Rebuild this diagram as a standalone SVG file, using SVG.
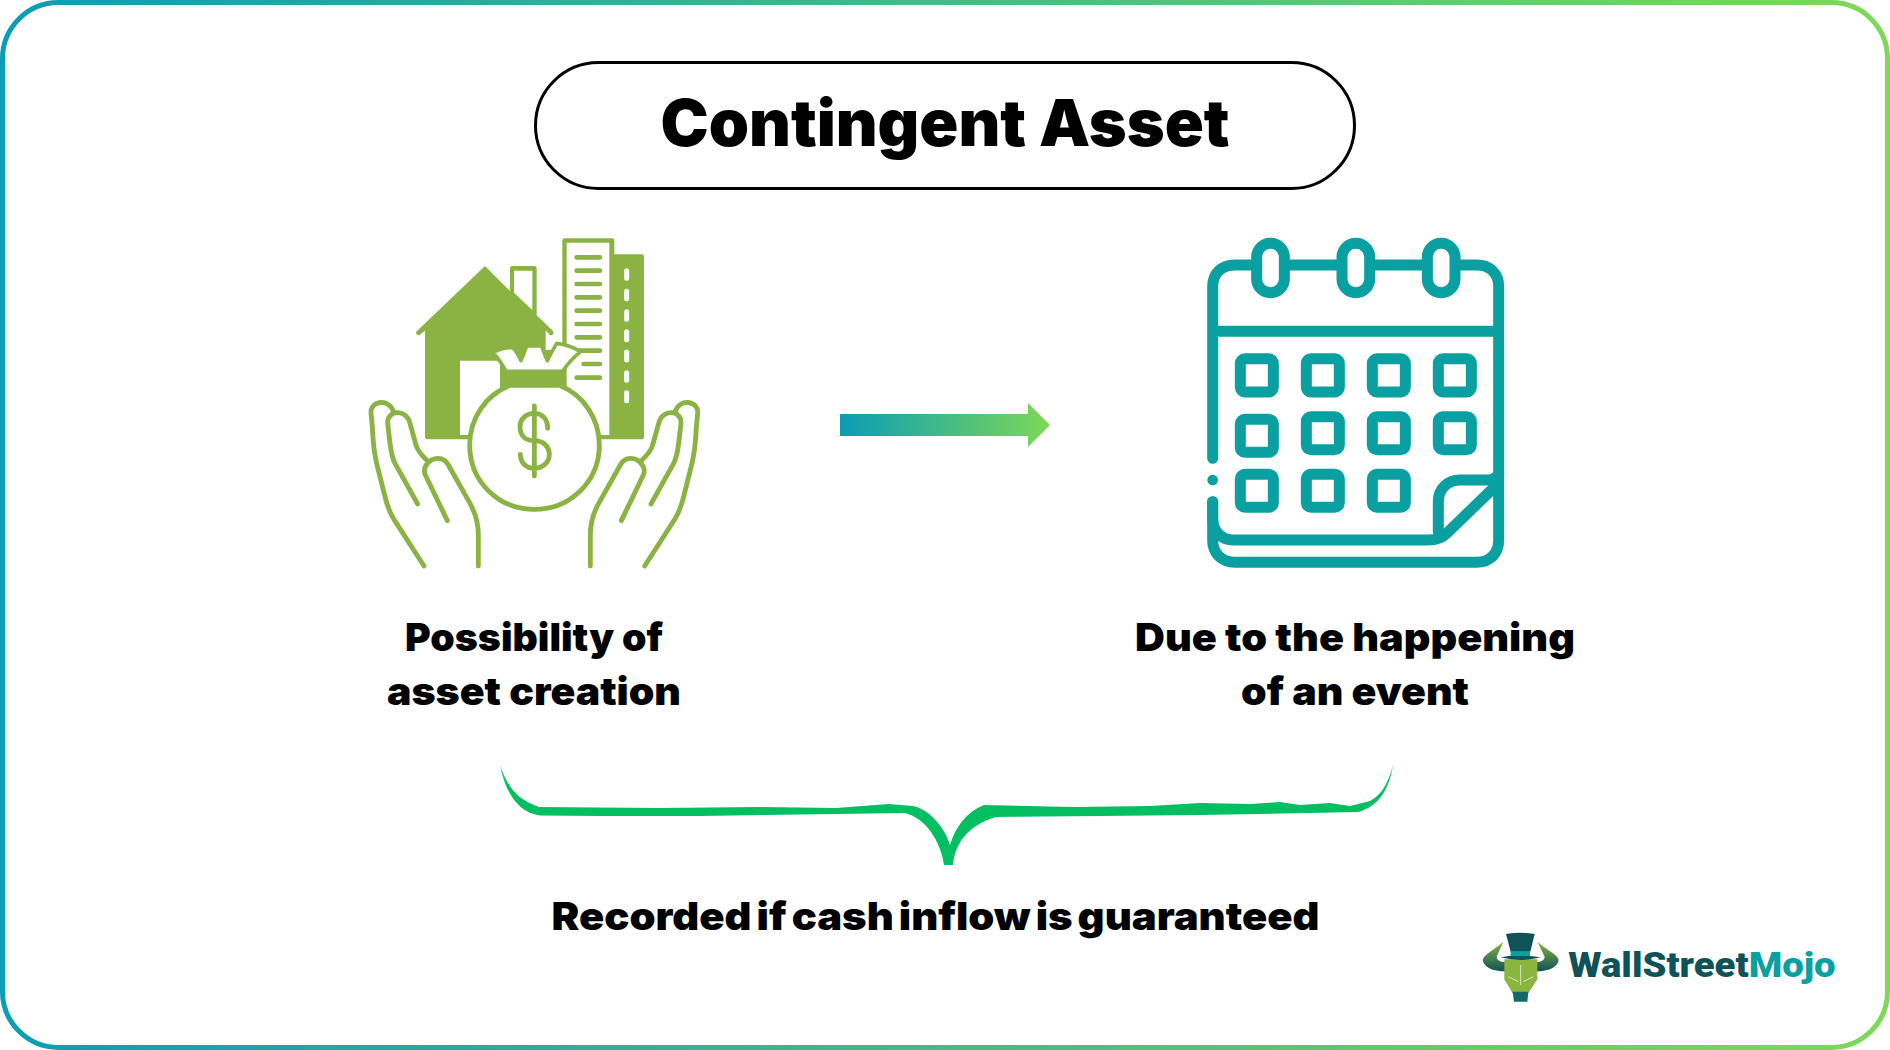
<svg xmlns="http://www.w3.org/2000/svg" width="1890" height="1050" viewBox="0 0 1890 1050">
<style>
.t{font-family:"Inter","Liberation Sans",sans-serif;font-weight:900;fill:#000;text-anchor:middle}
.l{font-size:39px}
.g{fill:none;stroke:#8AB343;stroke-width:14.500;stroke-linecap:round;stroke-linejoin:round}
.c{fill:none;stroke:#0A9FA0;stroke-width:33;stroke-linecap:round;stroke-linejoin:round}
.s{fill:none;stroke:#0A9FA0;stroke-width:33}
</style>
<defs>
<linearGradient id="bd" gradientUnits="userSpaceOnUse" x1="0" y1="0" x2="1890" y2="0"><stop offset="0" stop-color="#0A9DB5"/><stop offset="1" stop-color="#7ED957"/></linearGradient>
<linearGradient id="ar" gradientUnits="userSpaceOnUse" x1="840" y1="0" x2="1050" y2="0"><stop offset="0" stop-color="#0A9DB5"/><stop offset="1" stop-color="#7ED957"/></linearGradient>
<linearGradient id="hn" x1="0" y1="0" x2="0" y2="1"><stop offset="0" stop-color="#8AB640"/><stop offset="1" stop-color="#0F5257"/></linearGradient>
<g id="hand" class="g">
<path d="M252,1068 L160,925 Q145,900 135,860 L110,760 Q100,720 97,650 L93,610 C90,570 150,565 160,605"/>
<path d="M233,882 L165,760 Q155,740 150,700 L143,640 C140,600 200,595 210,640 L228,705 Q233,725 262,752"/>
<path d="M322,932 L256,795 C240,760 300,720 325,765 L390,880 Q415,925 415,975 L415,1068"/>
</g>
</defs>
<rect width="1890" height="1050" fill="#fff"/>
<rect id="frame" x="2.5" y="2.5" width="1885" height="1045" rx="56" fill="#fff" stroke="url(#bd)" stroke-width="5"/>
<g id="title">
<rect x="535.5" y="62.5" width="819" height="126" rx="63" fill="#fff" stroke="#000" stroke-width="3"/>
<text class="t" x="945" y="146" font-size="65" textLength="569" lengthAdjust="spacingAndGlyphs">Contingent Asset</text>
</g>
<g id="asset-node">
<g transform="translate(340,210) scale(.33333)">
<path fill="#8AB343" d="M435,168 L228,366 Q228,376 238,376 L255,362 V682 Q255,688 262,688 H906 Q912,688 912,682 V139 Q912,133 906,133 H823 V92 Q823,85 816,85 H674 Q667,85 667,92 V420 H617 V360 L630,376 Q642,376 640,364 L590,316 V175 Q590,168 583,168 H517 Q510,168 510,175 V243 Z"/>
<path fill="#fff" d="M522,182 H577 V300 L522,248 Z"/>
<path fill="#fff" d="M680,98 H808 V675 H680 Z"/>
<path fill="#fff" d="M360,452 H480 V675 H360 Z"/>
<path fill="none" stroke="#8AB343" stroke-width="14" stroke-linecap="round" d="M710,142 H780 M710,182 H780 M710,222 H780 M710,262 H780 M710,302 H780 M710,342 H780 M710,382 H780 M710,422 H780 M731,462 H780 M710,503 H780"/>
<path fill="none" stroke="#fff" stroke-width="15" stroke-linecap="round" d="M860,182 V205 M860,244 V266 M860,305 V328 M860,365 V389 M860,426 V450 M860,488 V511 M860,548 V572"/>
<path fill="#fff" stroke="#8AB343" stroke-width="14.500" stroke-linejoin="round" d="M510,526 H658 C730,555 778,625 778,705 C778,815 690,898 583,898 C476,898 389,815 389,705 C389,625 437,555 510,526 Z"/>
<path fill="#8AB343" d="M497,480 H670 L662,522 L500,522 Z"/>
<path fill="#fff" stroke="#8AB343" stroke-width="11" stroke-linejoin="round" d="M458,427 Q490,412 518,412 Q530,425 543,452 Q552,430 560,408 H605 Q612,430 622,452 Q635,425 650,400 Q690,405 722,425 Q690,450 668,484 H498 Q480,450 458,427 Z"/>
<path d="M583,588 V798 M623,655 C623,625 605,610 583,610 C555,610 540,630 540,650 C540,680 560,692 583,692 C610,692 628,710 628,733 C628,760 605,775 583,775 C560,775 541,760 541,733" class="g"/>
<use href="#hand"/>
<use href="#hand" transform="matrix(-1,0,0,1,1166,0)"/>
</g>
<text class="t l" x="534" y="651" textLength="258" lengthAdjust="spacingAndGlyphs">Possibility of</text>
<text class="t l" x="534" y="705" textLength="294" lengthAdjust="spacingAndGlyphs">asset creation</text>
</g>
<g id="connectors">
<path id="arrow" fill="url(#ar)" d="M840,414 H1028 V403 L1050,425 L1028,447 V436 H840 Z"/>
</g>
<g id="event-node">
<g transform="translate(1180,210) scale(.33333)">
<path class="c" d="M98,745 V230 C98,190 125,165 165,165 H890 C930,165 956,190 956,230 V990 C956,1030 930,1057 890,1057 H165 C125,1057 98,1030 98,990 V875"/>
<path class="c" d="M98,875 V925 C98,965 125,990 160,990 H745 C765,990 785,985 800,970 L950,825"/>
<path class="c" d="M775,965 V875 C775,835 805,810 840,810 H925 Q945,810 956,790"/>
<path class="s" d="M98,364 H956"/>
<circle cx="98" cy="810" r="16" fill="#0A9FA0"/>
<g fill="#fff" stroke="#0A9FA0" stroke-width="33">
<rect x="230" y="100" width="83" height="148" rx="41"/>
<rect x="486" y="100" width="83" height="148" rx="41"/>
<rect x="742" y="100" width="83" height="148" rx="41"/>
</g>
<g fill="none" stroke="#0A9FA0" stroke-width="33">
<rect x="181" y="446" width="99" height="100" rx="14"/>
<rect x="379" y="446" width="99" height="100" rx="14"/>
<rect x="577" y="446" width="99" height="100" rx="14"/>
<rect x="775" y="446" width="99" height="100" rx="14"/>
<rect x="181" y="628" width="99" height="99" rx="14"/>
<rect x="379" y="620" width="99" height="99" rx="14"/>
<rect x="577" y="620" width="99" height="99" rx="14"/>
<rect x="775" y="620" width="99" height="99" rx="14"/>
<rect x="181" y="793" width="99" height="99" rx="14"/>
<rect x="379" y="793" width="99" height="99" rx="14"/>
<rect x="577" y="793" width="99" height="99" rx="14"/>
</g>
</g>
<text class="t l" x="1355" y="651" textLength="440" lengthAdjust="spacingAndGlyphs">Due to the happening</text>
<text class="t l" x="1355" y="705" textLength="228" lengthAdjust="spacingAndGlyphs">of an event</text>
</g>
<g id="brace-node">
<path fill="#04BF62" d="M500,765 C505,790 516,812 540,815.500 L600,816 L700,816 L800,814.500 L905,813 C926,818 941,842 944,865 L953,865 C955,845 966,826 996,817 L1100,816 L1200,815 L1358,812 C1378,807 1389,790 1393,765 C1388,785 1380,796 1370,801 L1350,806 L1330,803 L1300,805 L1280,802 L1251,804 L1200,803 L1150,806 L1073,807 L984,805 C966,812 955,828 950,845 C946,830 930,809 913,806 L889,804 L836,808 L760,807 L658,808 L539,807 C520,800 508,790 500,765 Z"/>
<text class="t l" x="935.500" y="930" textLength="768" lengthAdjust="spacingAndGlyphs" word-spacing="-3">Recorded if cash inflow is guaranteed</text>
</g>
<g id="logo">
<g transform="translate(1450,900) scale(.33333)">
<path fill="url(#hn)" d="M160,125 C130,150 100,165 98,180 C100,202 130,214 165,214 V186 C152,186 140,180 140,170 Z"/>
<path fill="url(#hn)" d="M262,125 C292,150 324,165 326,180 C324,202 294,214 260,214 V186 C272,186 284,180 284,170 Z"/>
<path fill="#8AB640" d="M163,178 H262 V238 L235,280 H188 L163,238 Z"/>
<path fill="#14686A" d="M188,275 H235 L232,305 H192 Z"/>
<path fill="none" stroke="#fff" stroke-width="2" d="M212,195 V255 M175,230 L205,245 M250,230 L220,245"/>
<path fill="#0F5257" d="M168,102 Q210,94 254,102 L241,155 H182 Z"/>
<path fill="#0F5257" d="M152,172 Q212,160 272,172 Q212,188 152,172 Z"/>
<rect x="182" y="154" width="58" height="14" fill="#0A9FA0"/>
<text x="355" y="232" font-family="Roboto,'Liberation Sans',sans-serif" font-weight="900" font-size="108" textLength="802" lengthAdjust="spacingAndGlyphs"><tspan fill="#0F5257">WallStreet</tspan><tspan fill="#0A9FA0">Mojo</tspan></text>
</g>
</g>
</svg>
